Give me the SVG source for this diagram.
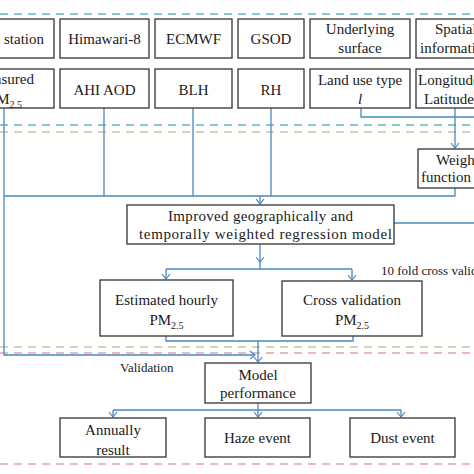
<svg xmlns="http://www.w3.org/2000/svg" width="474" height="474" viewBox="0 0 474 474">
<style>
.box{fill:#fff;stroke:#333;stroke-width:1.3}
.t{font-family:"Liberation Serif","Times New Roman",serif;font-size:15px;fill:#1a1a1a}
.s{font-family:"Liberation Serif","Times New Roman",serif;font-size:13px;fill:#1a1a1a}
.c{text-anchor:middle}
.sub{font-size:10px}
.con{fill:none;stroke:#4a88c0;stroke-width:1.3}
.dc{stroke:#5fb8c6;stroke-width:1.3;stroke-dasharray:8,6}
.dg{stroke:#c6c79c;stroke-width:1.3;stroke-dasharray:8,6}
.dp{stroke:#e8a3ad;stroke-width:1.3;stroke-dasharray:8,6}
</style>
<defs>
<marker id="ar" viewBox="-6 -5 7 10" refX="0" refY="0" markerWidth="7" markerHeight="10" markerUnits="userSpaceOnUse" orient="auto">
<path d="M-5,-4 L0,0 L-5,4" fill="none" stroke="#4a88c0" stroke-width="1.2"/>
</marker>
</defs>
<rect width="474" height="474" fill="#fff"/>
<g id="separators">
<line class="dc" x1="0" y1="14" x2="474" y2="14"/>
<line class="dc" x1="0" y1="125" x2="474" y2="125"/>
<line class="dg" x1="0" y1="132" x2="474" y2="132"/>
<line class="dg" x1="0" y1="347" x2="474" y2="347"/>
<line class="dp" x1="0" y1="353" x2="474" y2="353"/>
<line class="dp" x1="0" y1="464" x2="474" y2="464"/>
</g>
<g id="connectors">
<path class="con" d="M4,108 V355 H255" marker-end="url(#ar)"/>
<path class="con" d="M4,196 H455 V188"/>
<line class="con" x1="104" y1="108" x2="104" y2="196"/>
<line class="con" x1="193" y1="108" x2="193" y2="196"/>
<line class="con" x1="271" y1="108" x2="271" y2="196"/>
<line class="con" x1="260" y1="196" x2="260" y2="204" marker-end="url(#ar)"/>
<path class="con" d="M361,108 V117 H474"/>
<line class="con" x1="455" y1="108" x2="455" y2="148" marker-end="url(#ar)"/>
<line class="con" x1="394" y1="223" x2="474" y2="223"/>
<line class="con" x1="260" y1="244" x2="260" y2="262" marker-end="url(#ar)"/>
<line class="con" x1="260" y1="262" x2="260" y2="269"/>
<line class="con" x1="166" y1="269" x2="352" y2="269"/>
<line class="con" x1="166" y1="269" x2="166" y2="279" marker-end="url(#ar)"/>
<line class="con" x1="352" y1="269" x2="352" y2="280" marker-end="url(#ar)"/>
<path class="con" d="M166,336 V341 H353 V336"/>
<line class="con" x1="258" y1="341" x2="258" y2="362" marker-end="url(#ar)"/>
<line class="con" x1="258" y1="403" x2="258" y2="410"/>
<line class="con" x1="113" y1="410" x2="401" y2="410"/>
<line class="con" x1="113" y1="410" x2="113" y2="417" marker-end="url(#ar)"/>
<line class="con" x1="258" y1="410" x2="258" y2="417" marker-end="url(#ar)"/>
<line class="con" x1="401" y1="410" x2="401" y2="417" marker-end="url(#ar)"/>
</g>
<g id="station"><rect class="box" x="-10" y="19" width="64" height="39"/><text class="t" x="4" y="44">station</text></g>
<g id="himawari"><rect class="box" x="60" y="19" width="89" height="39"/><text class="t c" x="104.5" y="44">Himawari-8</text></g>
<g id="ecmwf"><rect class="box" x="155" y="19" width="77" height="39"/><text class="t c" x="193.5" y="44">ECMWF</text></g>
<g id="gsod"><rect class="box" x="238" y="19" width="66" height="39"/><text class="t c" x="271" y="44">GSOD</text></g>
<g id="underlying"><rect class="box" x="310" y="19" width="100" height="39"/><text class="t c" x="360" y="34">Underlying</text><text class="t c" x="360" y="53">surface</text></g>
<g id="spatial"><rect class="box" x="416" y="19" width="70" height="39"/><text class="t" x="435" y="34">Spatial</text><text class="t" x="420" y="53">information</text></g>
<g id="measured"><rect class="box" x="-10" y="69" width="64" height="39"/><text class="t" x="34" y="84" text-anchor="end">Measured</text><text class="t" x="22" y="104" text-anchor="end">PM<tspan class="sub" dy="4">2.5</tspan></text></g>
<g id="ahi"><rect class="box" x="60" y="69" width="89" height="39"/><text class="t c" x="104.5" y="95">AHI AOD</text></g>
<g id="blh"><rect class="box" x="155" y="69" width="77" height="39"/><text class="t c" x="193.5" y="95">BLH</text></g>
<g id="rh"><rect class="box" x="238" y="69" width="66" height="39"/><text class="t c" x="271" y="95">RH</text></g>
<g id="landuse"><rect class="box" x="310" y="69" width="100" height="39"/><text class="t c" x="360" y="85">Land use type</text><text class="t c" x="360" y="104" font-style="italic">l</text></g>
<g id="lonlat"><rect class="box" x="416" y="69" width="70" height="39"/><text class="t" x="418" y="85">Longitude</text><text class="t" x="424" y="104">Latitude</text></g>
<g id="weight"><rect class="box" x="418" y="149" width="68" height="39"/><text class="t" x="436" y="165">Weight</text><text class="t" x="421" y="182">function</text></g>
<g id="model"><rect class="box" x="127" y="205" width="267" height="39"/>
<text class="t" x="168" y="221" textLength="185" lengthAdjust="spacing">Improved geographically and</text>
<text class="t" x="139" y="239" textLength="253" lengthAdjust="spacing">temporally weighted regression model</text></g>
<g id="estimated"><rect class="box" x="100" y="280" width="133" height="56"/><text class="t c" x="166.5" y="305">Estimated hourly</text><text class="t c" x="166.5" y="325">PM<tspan class="sub" dy="4">2.5</tspan></text></g>
<g id="crossval"><rect class="box" x="282" y="281" width="140" height="55"/><text class="t c" x="352" y="305">Cross validation</text><text class="t c" x="352" y="325">PM<tspan class="sub" dy="4">2.5</tspan></text></g>
<text class="s" x="381" y="275">10 fold cross validation</text>
<text class="s" x="120" y="372">Validation</text>
<g id="performance"><rect class="box" x="205" y="363" width="106" height="40"/><text class="t c" x="258" y="380">Model</text><text class="t c" x="258" y="398">performance</text></g>
<g id="annually"><rect class="box" x="60" y="418" width="106" height="39"/><text class="t c" x="113" y="435">Annually</text><text class="t c" x="113" y="455">result</text></g>
<g id="haze"><rect class="box" x="205" y="418" width="105" height="39"/><text class="t c" x="257.5" y="443">Haze event</text></g>
<g id="dust"><rect class="box" x="350" y="418" width="105" height="39"/><text class="t c" x="402.5" y="443">Dust event</text></g>
</svg>
